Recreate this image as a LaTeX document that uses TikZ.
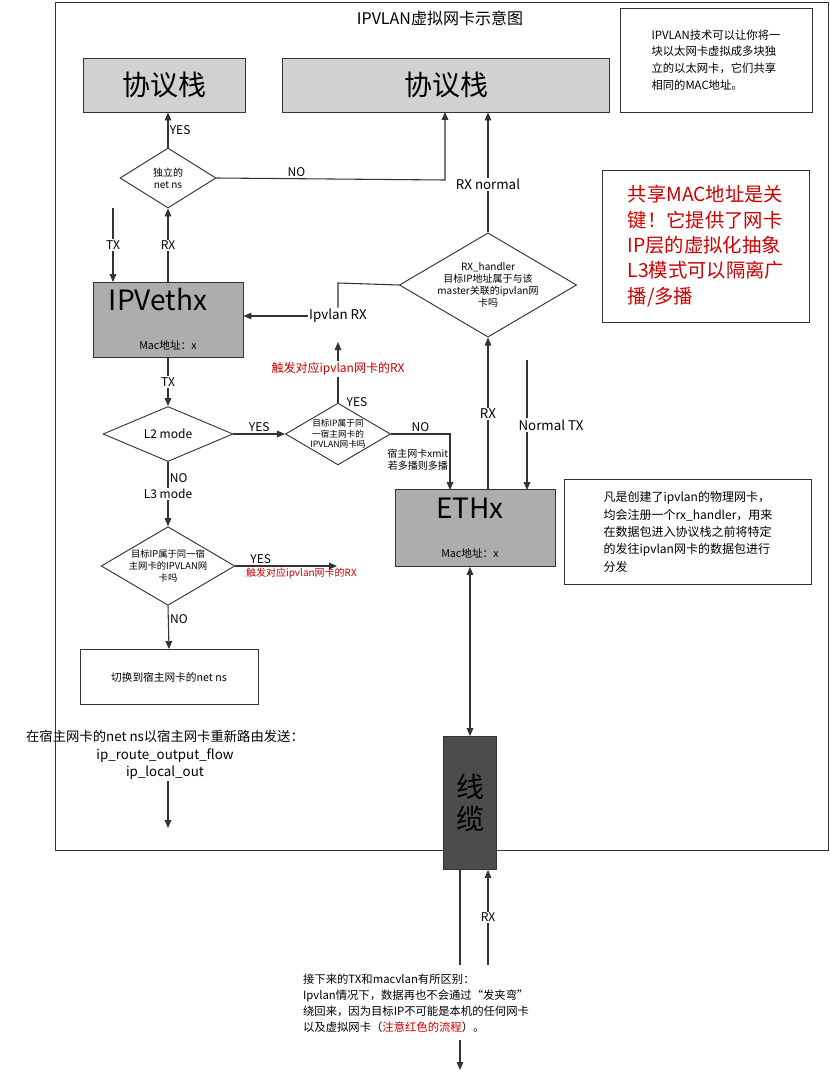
\documentclass[tikz,border=0pt]{standalone}
\usepackage{fontspec}
\setmainfont{Noto Sans CJK SC}
\usetikzlibrary{shapes.geometric,arrows.meta}
\begin{document}
\begin{tikzpicture}[x=0.75pt,y=-0.75pt,
  every node/.style={inner sep=1pt,font=\fontsize{8}{10}\selectfont},
  ln/.style={draw=black!80,line width=0.8pt},
  ar/.style={ln,-{Triangle[length=6pt,width=5pt]}},
  box/.style={draw=black!80,line width=0.7pt},
  dia/.style={draw=black!80,line width=0.7pt,diamond,aspect=1.7,inner sep=0pt,align=center,font=\fontsize{7.5}{9}\selectfont},
  lbl/.style={fill=white,font=\fontsize{9}{11}\selectfont},
  big/.style={font=\fontsize{21}{24}\selectfont},
  red/.style={text=red!80!black}]
\useasboundingbox (0,0) rectangle (830,1077);
\draw[box] (55,2) rectangle (828,850);
\node (title) at (440,18) {\fontsize{12}{14}\selectfont IPVLAN虚拟网卡示意图};
\node[box,minimum width=192*0.75pt,minimum height=104*0.75pt,align=left,font=\fontsize{8.5}{12.5}\selectfont] (note1) at (716,60)
  {IPVLAN技术可以让你将一\\块以太网卡虚拟成多块独\\立的以太网卡，它们共享\\相同的MAC地址。};
\node[box,fill=black!18,minimum width=162*0.75pt,minimum height=54*0.75pt,big] (ps1) at (164,85) {协议栈};
\node[box,fill=black!18,minimum width=327*0.75pt,minimum height=54*0.75pt,big] (ps2) at (446,85) {协议栈};
\node[dia,minimum width=96*0.75pt,minimum height=60*0.75pt] (ns) at (168,178) {独立的\\net ns};
\node[box,fill=black!32,minimum width=150*0.75pt,minimum height=75*0.75pt] (ipv) at (168,320) {};
\node[big] at (158,300) {IPVethx};
\node at (168,345) {Mac地址：x};
\node[box,minimum width=207*0.75pt,minimum height=152*0.75pt,align=left,red,font=\fontsize{14.5}{19}\selectfont] (note2) at (706,246)
  {共享MAC地址是关\\键！它提供了网卡\\IP层的虚拟化抽象\\L3模式可以隔离广\\播/多播};
\node[dia,minimum width=168*0.75pt,minimum height=80*0.75pt] (rxh) at (488,285) {RX\_handler\\目标IP地址属于与该\\master关联的ipvlan网\\卡吗};
\node[dia,minimum width=130*0.75pt,minimum height=55*0.75pt,font=\fontsize{9}{11}\selectfont] (l2) at (168,434) {L2 mode};
\node[dia,minimum width=96*0.75pt,minimum height=55*0.75pt,font=\fontsize{6.5}{8}\selectfont] (same1) at (338,434) {目标IP属于同\\一宿主网卡的\\IPVLAN网卡吗};
\node[box,fill=black!32,minimum width=160*0.75pt,minimum height=77*0.75pt] (eth) at (475,528) {};
\node[big] at (470,508) {ETHx};
\node at (470,553) {Mac地址：x};
\node[box,minimum width=247*0.75pt,minimum height=105*0.75pt,align=left,font=\fontsize{9}{13}\selectfont] (note3) at (688,532)
  {凡是创建了ipvlan的物理网卡，\\均会注册一个rx\_handler，用来\\在数据包进入协议栈之前将特定\\的发往ipvlan网卡的数据包进行\\分发};
\node[dia,minimum width=122*0.75pt,minimum height=77*0.75pt,font=\fontsize{7}{9}\selectfont] (l3) at (168,566) {目标IP属于同一宿\\主网卡的IPVLAN网\\卡吗};
\node[box,minimum width=178*0.75pt,minimum height=55*0.75pt] (sw) at (169,677) {切换到宿主网卡的net ns};
\node[align=center,font=\fontsize{10}{13}\selectfont] (rt) at (165,755) {在宿主网卡的net ns以宿主网卡重新路由发送：\\ip\_route\_output\_flow\\ip\_local\_out};
\node[box,fill=black!70,minimum width=53*0.75pt,minimum height=133*0.75pt,align=center,big] (cab) at (470,803) {线\\缆};
\node[align=left,font=\fontsize{8.5}{12}\selectfont] (bt) at (416,1003) {接下来的TX和macvlan有所区别：\\Ipvlan情况下，数据再也不会通过“发夹弯”\\绕回来，因为目标IP不可能是本机的任何网卡\\以及虚拟网卡（\textcolor{red!80!black}{注意红色的流程}）。};
\coordinate (txs) at (113,208);
\coordinate (nts) at (527,360);
\coordinate (rxb) at (488,965);
\coordinate (end) at (460,1070);
\coordinate (rtend) at (168,828);
% connectors
\draw[ar] (ns.north) -- node[right,lbl]{YES} (ns.north|-ps1.south);
\draw[ar] (ns.east) -- node[above,lbl,pos=0.35]{NO} (445,180) -- (445,112);
\draw[ar] (txs) -- node[lbl]{TX} (txs|-ipv.north);
\draw[ar] (ipv.north) -- node[lbl]{RX} (ns.south);
\draw[ar] (rxh.north) -- node[lbl,pos=0.4,font=\fontsize{10}{12}\selectfont]{RX normal} (rxh.north|-ps2.south);
\node[font=\fontsize{10}{12}\selectfont] (iprx) at (338,316) {Ipvlan RX};
\draw[ln] (rxh.west) -- (338,283) -- (iprx.north);
\draw[ar] (iprx.west) -- (ipv.east|-iprx.west);
\draw[ar] (same1.north) -- node[lbl,red,pos=0.55]{触发对应ipvlan网卡的RX} (338,342);
\node at (357,402) {\fontsize{9}{11}\selectfont YES};
\draw[ar] (488,490) -- node[lbl,font=\fontsize{10}{12}\selectfont]{RX} (rxh.south);
\draw[ar] (nts) -- node[lbl,pos=0.5,font=\fontsize{10}{12}\selectfont,xshift=18pt]{Normal TX} (527,490);
\draw[ar] (ipv.south) -- node[lbl]{TX} (l2.north);
\draw[ar] (l2.east) -- node[above,font=\fontsize{9}{11}\selectfont]{YES} (same1.west);
\draw[ar] (same1.east) -- node[above,pos=0.5,font=\fontsize{9}{11}\selectfont]{NO} (450,434) -- node[left,align=center,pos=0.45,fill=white,font=\fontsize{7.5}{9}\selectfont]{宿主网卡xmit\\若多播则多播} (450,490);
\draw[ar] (l2.south) -- node[pos=0.25,right,font=\fontsize{9}{11}\selectfont]{NO} node[pos=0.5,lbl]{L3 mode} (l3.north);
\draw[ar] (l3.east) -- node[above,pos=0.25,font=\fontsize{9}{11}\selectfont]{YES} node[below,pos=0.65,red,font=\fontsize{7.5}{9}\selectfont]{触发对应ipvlan网卡的RX} (337,566);
\draw[ar] (l3.south) -- node[right,pos=0.3,font=\fontsize{9}{11}\selectfont]{NO} (sw.north);
\draw[ar] (rt.south-|rtend) -- (rtend);
\draw[ln,{Triangle[length=6pt,width=5pt]}-{Triangle[length=6pt,width=5pt]}] (eth.south-|cab.north) -- (cab.north);
\draw[ln] (cab.south-|460,0) -- (460,965);
\draw[ar] (460,1040) -- (end);
\draw[ar] (rxb) -- node[lbl]{RX} (rxb|-cab.south);
\end{tikzpicture}
\end{document}
